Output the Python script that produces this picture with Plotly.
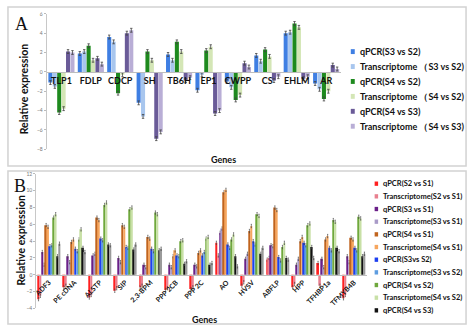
import plotly.graph_objects as go

# ---------------- Panel A data ----------------
genes_a = ["TLP1", "FDLP", "CDCP", "SH", "TB6H", "EP1", "CWPP", "CS", "EHLM", "AR"]
names_a = ["qPCR(S3 vs S2)", "Transcriptome （S3 vs S2)", "qPCR(S4 vs S2)",
           "Transcriptome （S4 vs S2)", "qPCR(S4 vs S3)", "Transcriptome （S4 vs S3)"]
a_qpcr_s3s2 = [-1.1, 1.9, 3.6, -3.2, 1.8, -1.9, -1.0, 1.7, 4.0, -1.2]
a_tr_s3s2 = [-1.5, 2.1, 3.1, -4.6, 1.2, -0.3, -1.6, 1.1, 4.1, -1.8]
a_qpcr_s4s2 = [-4.2, 2.7, -2.2, 2.1, 3.1, 2.2, -2.9, 2.3, 5.0, -2.8]
a_tr_s4s2 = [-3.8, 1.2, -0.3, 1.2, 2.1, 2.6, -2.4, 1.6, 4.6, -2.0]
a_qpcr_s4s3 = [2.1, 1.4, 4.0, -6.9, -0.9, -4.3, 0.9, -0.9, -0.7, 0.7]
a_tr_s4s3 = [2.0, 0.8, 4.3, -6.2, -0.6, -4.0, 0.5, -0.5, -0.5, 0.3]
yticks_a = [-8, -6, -4, -2, 0, 2, 4, 6]

# ---------------- Panel B data ----------------
genes_b = ["ADF3", "PE cDNA", "ALSTP", "SIP", "2,3-BPM", "PPP 2CB", "PPP 2C",
           "AO", "HVSV", "ABFLP", "HPP", "TFHBP1a", "TFMYB4B"]
names_b = ["qPCR(S2 vs S1)", "Transcriptome(S2 vs S1)", "qPCR(S3 vs S1)",
           "Transcriptome(S3 vs S1)", "qPCR(S4 vs S1)", "Transcriptome(S4 vs S1)",
           "qPCR(S3vs S2)", "Transcriptome(S3 vs S2)", "qPCR(S4 vs S2)",
           "Transcriptome(S4 vs S2)", "qPCR(S4 vs S3)", "Transcriptome(S4 vs S3)"]
b_qpcr_s2s1 = [-2.9, -1.5, -2.7, -1.9, -1.5, -1.8, -1.7, 3.8, -1.3, 1.8, -1.5, 1.4, -2.8]
b_tr_s2s1 = [-2.5, -1.3, -2.4, -1.6, -1.3, -1.6, -1.5, 2.3, -0.9, 2.0, -1.1, -1.3, -2.4]
b_qpcr_s3s1 = [2.7, 2.2, 2.3, 2.0, 1.2, 1.2, 1.2, 5.0, 1.9, 3.5, 1.2, 1.9, 2.2]
b_tr_s3s1 = [1.2, 1.5, 2.5, 1.5, 0.9, 0.9, 1.0, 5.5, 2.5, 3.4, 1.9, 0.9, 1.5]
b_qpcr_s4s1 = [5.9, 3.9, 6.8, 5.9, 4.5, 2.2, 2.6, 9.8, 5.2, 8.0, 4.0, 4.2, 4.4]
b_tr_s4s1 = [5.7, 4.2, 6.5, 5.7, 4.3, 2.9, 2.9, 10.1, 5.8, 7.7, 4.5, 4.6, 4.2]
b_qpcr_s3s2 = [3.4, 3.1, 4.3, 3.3, 3.1, 2.3, 2.3, 3.6, 4.0, 2.1, 3.8, 3.2, 3.2]
b_tr_s3s2 = [3.5, 2.8, 4.1, 3.2, 2.8, 2.2, 2.7, 3.2, 3.6, 1.7, 3.5, 2.9, 2.9]
b_qpcr_s4s2 = [6.8, 4.2, 8.3, 7.8, 7.4, 4.0, 4.3, 4.2, 7.2, 3.3, 5.9, 6.5, 6.9]
b_tr_s4s2 = [7.2, 5.4, 8.6, 8.0, 7.2, 4.1, 4.5, 4.8, 7.0, 3.8, 6.1, 6.3, 6.7]
b_qpcr_s4s3 = [2.2, 3.2, 3.6, 3.0, 2.9, 1.3, 1.2, 2.2, 2.5, 2.0, 3.3, 3.2, 2.2]
b_tr_s4s3 = [3.7, 2.7, 3.5, 3.6, 3.1, 1.6, 1.4, 1.0, 3.2, 1.8, 2.0, 2.8, 2.5]
yticks_b = [-4, -2, 0, 2, 4, 6, 8, 10, 12]

colors_a = ["#3f7fe3", "#a8c6ee", "#1e8a1e", "#d4e6b6", "#6a5b98", "#b9aed6"]
colors_b = ["#ff1f1f", "#e8808f", "#6a1f88", "#a99bc8", "#c0641e", "#f6a65e",
            "#1d3ff0", "#5e9de0", "#6fa83c", "#c8e0a6", "#111111", "#9a9a9a"]

W, H = 474, 333
def px(x):
    return x / W
def py(y):
    return 1 - y / H

fig = go.Figure()
series_a = [a_qpcr_s3s2, a_tr_s3s2, a_qpcr_s4s2, a_tr_s4s2, a_qpcr_s4s3, a_tr_s4s3]
for name, vals, col in zip(names_a, series_a, colors_a):
    fig.add_trace(go.Bar(x=genes_a, y=vals, name=name, marker_color=col,
                         marker_line_width=0, showlegend=False,
                         xaxis="x", yaxis="y",
                         error_y=dict(type="constant", value=0.2, thickness=0.8,
                                      width=1.2, color="#444")))

series_b = [b_qpcr_s2s1, b_tr_s2s1, b_qpcr_s3s1, b_tr_s3s1, b_qpcr_s4s1, b_tr_s4s1,
            b_qpcr_s3s2, b_tr_s3s2, b_qpcr_s4s2, b_tr_s4s2, b_qpcr_s4s3, b_tr_s4s3]
for name, vals, col in zip(names_b, series_b, colors_b):
    fig.add_trace(go.Bar(x=genes_b, y=vals, name=name, marker_color=col,
                         marker_line_width=0, showlegend=False,
                         xaxis="x2", yaxis="y2",
                         error_y=dict(type="constant", value=0.2, thickness=0.6,
                                      width=0.6, color="#444")))

# domains
ya_dom = [py(149), py(11)]
yb_dom = [py(311), py(174)]
xa_dom = [px(44), px(340)]
xb_dom = [px(33.5), px(366)]
zero_a = ya_dom[0] + (8 / 14) * (ya_dom[1] - ya_dom[0])
zero_b = yb_dom[0] + (4 / 16) * (yb_dom[1] - yb_dom[0])

lab_font = dict(family="Lato", color="#111", weight="bold")

fig.update_layout(
    width=W, height=H, margin=dict(l=0, r=0, t=0, b=0),
    paper_bgcolor="white", plot_bgcolor="rgba(0,0,0,0)",
    barmode="group", bargap=0.1, bargroupgap=0.08,
    showlegend=False,
    xaxis=dict(domain=xa_dom, anchor="free", position=zero_a,
               showline=True, linecolor="#bdbdbd", linewidth=1, ticks="",
               tickfont=dict(size=9, **lab_font), showgrid=False, zeroline=False,
               ticklabelstandoff=0),
    yaxis=dict(domain=ya_dom, anchor="x", range=[-8, 6], tickvals=yticks_a,
               showline=True, linecolor="#c8c8c8", linewidth=1, ticks="outside",
               ticklen=2, tickcolor="#bbb",
               tickfont=dict(size=5, color="#777", family="Lato"),
               showgrid=False, zeroline=False),
    xaxis2=dict(domain=xb_dom, anchor="free", position=zero_b,
                showline=True, linecolor="#bdbdbd", linewidth=1, ticks="",
                tickangle=-45, tickfont=dict(size=7, **lab_font),
                showgrid=False, zeroline=False),
    yaxis2=dict(domain=yb_dom, anchor="x2", range=[-4, 12], tickvals=yticks_b,
                showline=True, linecolor="#c8c8c8", linewidth=1, ticks="outside",
                ticklen=2, tickcolor="#bbb",
                tickfont=dict(size=5, color="#777", family="Lato"),
                showgrid=False, zeroline=False),
)

shapes = []
annotations = []

def note(x, y, text, font, angle=0, xanchor="center"):
    annotations.append(dict(xref="paper", yref="paper", x=px(x), y=py(y), text=text,
                            showarrow=False, xanchor=xanchor, yanchor="middle",
                            textangle=angle, font=font))

# panel frames
shapes.append(dict(type="rect", xref="paper", yref="paper", x0=px(5), x1=px(466),
                   y0=py(166), y1=py(4), line=dict(color="#d2d2d2", width=1.5)))
shapes.append(dict(type="rect", xref="paper", yref="paper", x0=px(5), x1=px(466),
                   y0=py(327), y1=py(171), line=dict(color="#d2d2d2", width=1.5)))

# custom legend A
for i, (name, col) in enumerate(zip(names_a, colors_a)):
    yc = 49.5 + 15.2 * i
    shapes.append(dict(type="rect", xref="paper", yref="paper",
                       x0=px(350), x1=px(354), y0=py(yc + 2.5), y1=py(yc - 2.5),
                       fillcolor=col, line=dict(width=0)))
    note(357, yc, name, dict(size=9, **lab_font), xanchor="left")

# custom legend B (11 entries shown)
for i, (name, col) in enumerate(zip(names_b[:11], colors_b[:11])):
    yc = 184 + 12.9 * i
    shapes.append(dict(type="rect", xref="paper", yref="paper",
                       x0=px(374), x1=px(377.5), y0=py(yc + 2.2), y1=py(yc - 2.2),
                       fillcolor=col, line=dict(width=0)))
    note(380, yc, name, dict(size=7.5, **lab_font), xanchor="left")

# panel letters
note(19, 21, "A", dict(family="Liberation Serif", size=18, color="#111"))
note(17, 186, "B", dict(family="Liberation Serif", size=18, color="#111"))
# axis titles
note(22, 88, "Relative expression", dict(size=10.5, **lab_font), angle=-90)
note(18, 242, "Relative expression", dict(size=10.5, **lab_font), angle=-90)
note(222, 159, "Genes", dict(size=9, **lab_font))
note(203, 322, "Genes", dict(size=9, **lab_font))

fig.update_layout(shapes=shapes, annotations=annotations)
fig.write_html("out.html")
